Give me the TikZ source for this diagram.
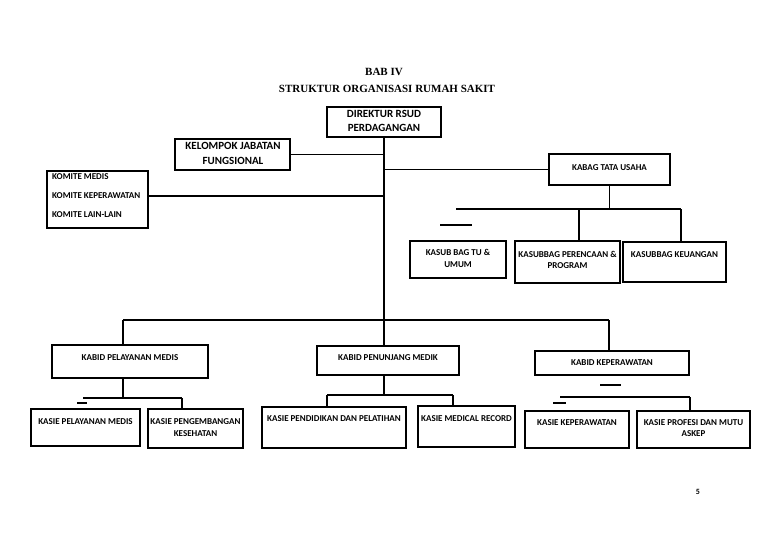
\documentclass[tikz,border=0pt]{standalone}
\usepackage{fontspec}
\setmainfont{Carlito}
\newfontfamily\titlefont{Liberation Serif}
\begin{document}
\begin{tikzpicture}[x=1pt,y=-1pt,
  box/.style={draw=black,line width=1.3pt,inner sep=0pt},
  thickbox/.style={box,line width=2pt},
  txt/.style={inner sep=0pt,font=\bfseries\fontsize{9}{11.5}\selectfont,align=center},
  bigtxt/.style={inner sep=0pt,font=\bfseries\fontsize{11}{14.5}\selectfont,align=center},
  ttl/.style={inner sep=0pt,font=\titlefont\bfseries\fontsize{11}{13}\selectfont},
  conn/.style={draw=black,line width=1.1pt}]
\useasboundingbox[fill=white] (0,0) rectangle (768,543);

% title
\node[ttl] (t1) at (384,72) {BAB IV};
\node[ttl] (t2) at (387,89) {STRUKTUR ORGANISASI RUMAH SAKIT};

% boxes
\node[box,minimum width=114pt,minimum height=30pt] (dir) at (384,122) {};
\node[box,minimum width=115pt,minimum height=31pt] (kjf) at (232.5,154.5) {};
\node[box,minimum width=101pt,minimum height=57pt] (km) at (97.5,199.5) {};
\node[box,minimum width=121pt,minimum height=31pt] (kabag) at (609.5,169.5) {};
\node[thickbox,minimum width=96pt,minimum height=37pt] (ktu) at (458,259.5) {};
\node[box,minimum width=105pt,minimum height=42pt] (kpr) at (567.5,262) {};
\node[box,minimum width=103pt,minimum height=40pt] (kku) at (674.5,262) {};
\node[box,minimum width=156pt,minimum height=33pt] (kpm) at (130,361.5) {};
\node[box,minimum width=142pt,minimum height=29pt] (kbp) at (388,360.5) {};
\node[box,minimum width=154pt,minimum height=24pt] (kkp) at (612,363) {};
\node[box,minimum width=109pt,minimum height=37pt] (ksm) at (85.5,427.5) {};
\node[box,minimum width=95pt,minimum height=39pt] (kpg) at (195.5,428.5) {};
\node[thickbox,minimum width=144pt,minimum height=41pt] (kpd) at (334,427.5) {};
\node[box,minimum width=97pt,minimum height=41pt] (kmr) at (466.5,426.5) {};
\node[box,minimum width=104pt,minimum height=37pt] (kkw) at (577,429.5) {};
\node[box,minimum width=113pt,minimum height=37pt] (kpf) at (693.5,429.5) {};

% texts
\node[bigtxt] (dirt) at (384,121) {DIREKTUR RSUD\\PERDAGANGAN};
\node[bigtxt] (kjft) at (233,153.5) {KELOMPOK JABATAN\\FUNGSIONAL};
\node[txt,anchor=west] (km1) at (52,177) {KOMITE MEDIS};
\node[txt,anchor=west] (km2) at (52,196) {KOMITE KEPERAWATAN};
\node[txt,anchor=west] (km3) at (52,215) {KOMITE LAIN-LAIN};
\node[txt] (kabagt) at (609.5,168) {KABAG TATA USAHA};
\node[txt] (ktut) at (458,258.5) {KASUB BAG TU \&\\UMUM};
\node[txt] (kprt) at (567.5,260) {KASUBBAG PERENCAAN \&\\PROGRAM};
\node[txt] (kkut) at (674.5,255) {KASUBBAG KEUANGAN};
\node[txt] (kpmt) at (130,358) {KABID PELAYANAN MEDIS};
\node[txt] (kbpt) at (388,358) {KABID PENUNJANG MEDIK};
\node[txt] (kkpt) at (612,363) {KABID KEPERAWATAN};
\node[txt] (ksmt) at (85.5,422) {KASIE PELAYANAN MEDIS};
\node[txt] (kpgt) at (195.5,427.5) {KASIE PENGEMBANGAN\\KESEHATAN};
\node[txt] (kpdt) at (334,419) {KASIE PENDIDIKAN DAN PELATIHAN};
\node[txt] (kmrt) at (466.5,419) {KASIE MEDICAL RECORD};
\node[txt] (kkwt) at (577,423) {KASIE KEPERAWATAN};
\node[txt] (kpft) at (693.5,428) {KASIE PROFESI DAN MUTU\\ASKEP};
\node[inner sep=0pt,font=\bfseries\fontsize{8}{9}\selectfont] (pg) at (698,492) {5};

% coordinates
\coordinate (vtop) at (384,137);
\coordinate (kmj) at (384,196);
\coordinate (kme) at (148,196);
\coordinate (hL) at (123,320);
\coordinate (hR) at (609,320);
\coordinate (tuL) at (456,209);
\coordinate (tuR) at (681,209);
\coordinate (tuM) at (579,209);
\coordinate (plA) at (123,398);
\coordinate (plL) at (83,398);
\coordinate (plR) at (182,398);
\coordinate (pnA) at (384,395);
\coordinate (pnL) at (327,395);
\coordinate (pnR) at (453,395);
\coordinate (kpL) at (560,397);
\coordinate (kpR) at (690,397);
\coordinate (s1a) at (440,225); \coordinate (s1b) at (472,225);
\coordinate (s2a) at (77,403);  \coordinate (s2b) at (87,403);
\coordinate (s3a) at (600,385); \coordinate (s3b) at (621,385);
\coordinate (s4a) at (553,403); \coordinate (s4b) at (566,403);

% connectors
\draw[conn] (vtop) -- (vtop |- kbp.north);
\draw[conn] (kjf.east) -- (kjf.east -| vtop);
\draw[conn] (kme) -- (kmj);
\draw[conn] (kabag.west) -- (kabag.west -| vtop);
\draw[conn] (kabag.south) -- (kabag.south |- tuL);
\draw[conn] (tuL) -- (tuR);
\draw[conn] (tuM) -- (tuM |- kpr.north);
\draw[conn] (tuR) -- (tuR |- kku.north);
\draw[conn] (s1a) -- (s1b);
\draw[conn] (hL) -- (hR);
\draw[conn] (hL) -- (hL |- kpm.north);
\draw[conn] (hR) -- (hR |- kkp.north);
\draw[conn] (plA |- kpm.south) -- (plA);
\draw[conn] (plL) -- (plR);
\draw[conn] (plR) -- (plR |- kpg.north);
\draw[conn] (s2a) -- (s2b);
\draw[conn] (pnA |- kbp.south) -- (pnA);
\draw[conn] (pnL) -- (pnR);
\draw[conn] (pnL) -- (pnL |- kpd.north);
\draw[conn] (pnR) -- (pnR |- kmr.north);
\draw[conn] (s3a) -- (s3b);
\draw[conn] (kpL) -- (kpR);
\draw[conn] (kpR) -- (kpR |- kpf.north);
\draw[conn] (s4a) -- (s4b);
\end{tikzpicture}
\end{document}
